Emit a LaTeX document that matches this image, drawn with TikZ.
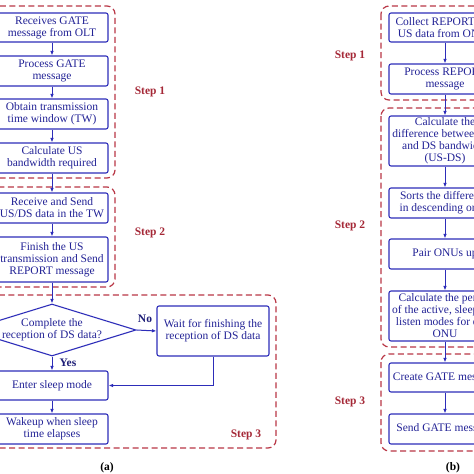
\documentclass[tikz,border=0pt]{standalone}
\usepackage{fontspec}
\setmainfont{Liberation Serif}
\usetikzlibrary{arrows.meta,shapes.geometric}
\definecolor{boxline}{RGB}{45,45,185}
\definecolor{textblue}{RGB}{35,35,150}
\definecolor{dashred}{RGB}{185,55,70}
\definecolor{stepred}{RGB}{165,40,55}
\definecolor{navy}{RGB}{30,30,120}
\begin{document}
\begin{tikzpicture}[x=1pt,y=-1pt,
  fbox/.style={draw=boxline,line width=1.1pt,rounded corners=2pt,minimum width=112pt,inner sep=0pt,align=center,text=textblue,font=\fontsize{11.5}{12}\selectfont},
  plain/.style={align=center,text=textblue,font=\fontsize{11.5}{12}\selectfont,inner sep=0pt},
  conn/.style={draw=boxline,line width=1pt,-{Latex[length=4.5pt,width=3.5pt]}},
  stepbox/.style={draw=dashred,line width=1.2pt,dash pattern=on 6pt off 3.5pt,rounded corners=8pt},
  steplbl/.style={text=stepred,font=\fontsize{11.5}{12}\selectfont\bfseries,inner sep=0pt},
  yn/.style={text=navy,font=\fontsize{11.5}{12}\selectfont\bfseries,inner sep=0pt},
  captionlbl/.style={text=black,font=\fontsize{11.5}{12}\selectfont\bfseries,inner sep=0pt}
  ]
\useasboundingbox (0,0) rectangle (474,474);
\clip (0,0) rectangle (474,474);
\fill[white] (0,0) rectangle (474,474);

% ---------- panel (a) ----------
\draw[stepbox] (-11,6) rectangle (115,178);
\draw[stepbox] (-11,187) rectangle (115,287);
\draw[stepbox] (-11,295) rectangle (276,448);

\node[fbox,minimum height=29pt] (l1) at (52,27.5) {Receives GATE\\message from OLT};
\node[fbox,minimum height=30pt] (l2) at (52,71) {Process GATE\\message};
\node[fbox,minimum height=30pt] (l3) at (52,114) {Obtain transmission\\time window (TW)};
\node[fbox,minimum height=30pt] (l4) at (52,158) {Calculate US\\bandwidth required};
\node[fbox,minimum height=30pt] (l5) at (52,208) {Receive and Send\\US/DS data in the TW};
\node[fbox,minimum height=45pt] (l6) at (52,259.5) {Finish the US\\transmission and Send\\REPORT message};
\node[draw=boxline,line width=1.1pt,shape=diamond,minimum width=168pt,minimum height=52pt,aspect=3.23,inner sep=0pt] (dia) at (52,330) {};
\node[plain] (diat) at (52,330) {Complete the\\reception of DS data?};
\node[fbox,minimum height=50pt] (wait) at (213,331) {Wait for finishing the\\reception of DS data};
\node[fbox,minimum height=29pt] (enter) at (52,385.5) {Enter sleep mode};
\node[fbox,minimum height=30pt] (wake) at (52,429) {Wakeup when sleep\\time elapses};

\draw[conn] (l1) -- (l2);
\draw[conn] (l2) -- (l3);
\draw[conn] (l3) -- (l4);
\draw[conn] (l4) -- (l5);
\draw[conn] (l5) -- (l6);
\draw[conn] (l6) -- (dia.north);
\draw[conn] (dia.east) -- (wait.west);
\draw[conn] (dia.south) -- (enter.north);
\draw[conn] (wait.south) |- (enter.east);
\draw[conn] (enter) -- (wake);

\node[yn] (no) at (145,319) {No};
\node[yn] (yes) at (68,363) {Yes};
\node[steplbl] (s1a) at (150,92) {Step 1};
\node[steplbl] (s2a) at (150,233) {Step 2};
\node[steplbl] (s3a) at (246,435) {Step 3};
\node[captionlbl] (capa) at (107,468) {(a)};

% ---------- panel (b) ----------
\draw[stepbox] (381,6) rectangle (509,100);
\draw[stepbox] (381,108) rectangle (509,347);
\draw[stepbox] (381,354) rectangle (509,451);

\node[fbox,minimum height=29pt] (r1) at (445,27.5) {Collect REPORT and\\US data from ONUs};
\node[fbox,minimum height=30pt] (r2) at (445,79) {Process REPORT\\message};
\node[fbox,minimum height=50pt] (r3) at (445,141) {Calculate the\\difference between US\\and DS bandwidth\\(US-DS)};
\node[fbox,minimum height=30pt] (r4) at (445,203) {Sorts the difference\\in descending order};
\node[fbox,minimum height=30pt] (r5) at (445,254) {Pair ONUs up};
\node[fbox,minimum height=50pt] (r6) at (445,316) {Calculate the period\\of the active, sleep and\\listen modes for each\\ONU};
\node[fbox,minimum height=29pt] (r7) at (445,377.5) {Create GATE message};
\node[fbox,minimum height=30pt] (r8) at (445,429) {Send GATE message};

\draw[conn] (r1) -- (r2);
\draw[conn] (r2) -- (r3);
\draw[conn] (r3) -- (r4);
\draw[conn] (r4) -- (r5);
\draw[conn] (r5) -- (r6);
\draw[conn] (r6) -- (r7);
\draw[conn] (r7) -- (r8);

\node[steplbl] (s1b) at (350,56) {Step 1};
\node[steplbl] (s2b) at (350,226) {Step 2};
\node[steplbl] (s3b) at (350,402) {Step 3};
\node[captionlbl] (capb) at (453,468) {(b)};
\end{tikzpicture}
\end{document}
